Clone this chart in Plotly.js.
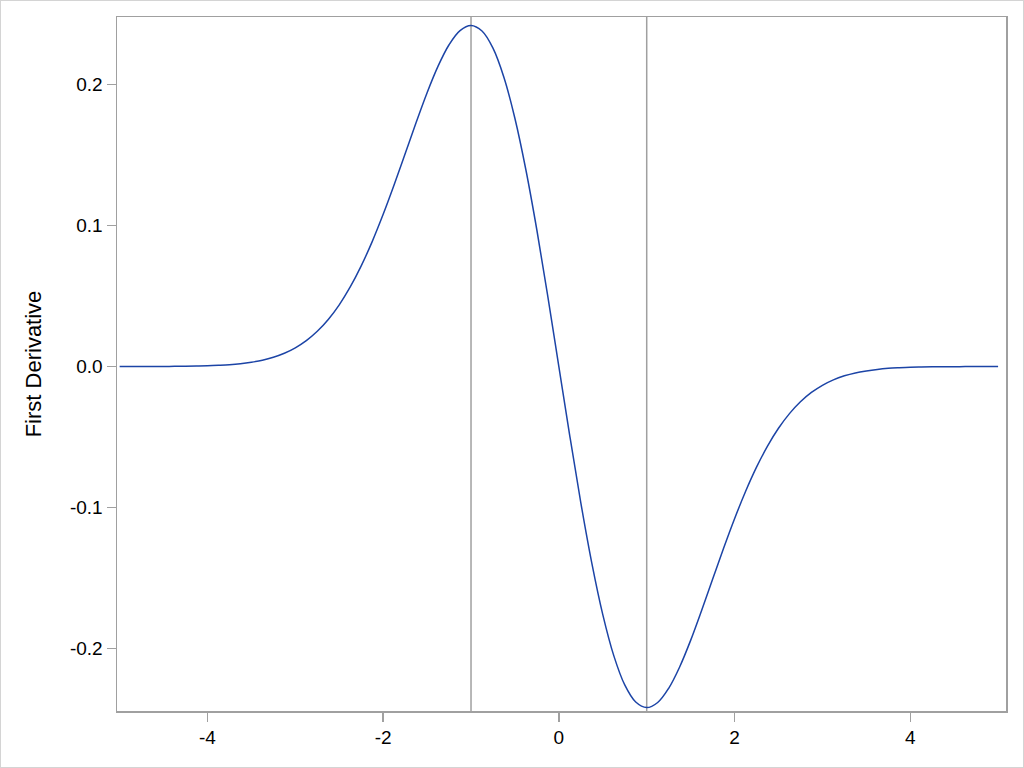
<!DOCTYPE html>
<html>
<head>
<meta charset="utf-8">
<script src="https://cdn.plot.ly/plotly-3.0.1.min.js"></script>
<style>
html,body{margin:0;padding:0;background:#fff;}
#wrap{width:1022px;height:766px;border:1px solid #d4d4d4;}
#chart{width:1022px;height:766px;}
</style>
</head>
<body>
<div id="wrap"><div id="chart"></div></div>
<script>
// x positions and first-derivative values
const xValues = [
  -5,-4.875,-4.75,-4.625,-4.5,-4.375,-4.25,-4.125,-4,-3.875,-3.75,-3.625,-3.5,-3.375,-3.25,-3.125,
  -3,-2.875,-2.75,-2.625,-2.5,-2.375,-2.25,-2.125,-2,-1.875,-1.75,-1.625,-1.5,-1.375,-1.25,-1.125,
  -1,-0.875,-0.75,-0.625,-0.5,-0.375,-0.25,-0.125,
  0,0.125,0.25,0.375,0.5,0.625,0.75,0.875,
  1,1.125,1.25,1.375,1.5,1.625,1.75,1.875,2,2.125,2.25,2.375,2.5,2.625,2.75,2.875,
  3,3.125,3.25,3.375,3.5,3.625,3.75,3.875,4,4.125,4.25,4.375,4.5,4.625,4.75,4.875,5];
const yValues = [
  0,0.00001,0.00002,0.00004,0.0001,0.00012,0.0002,0.00033,0.0005,0.00085,0.0013,0.00203,0.0031,0.00453,0.0066,0.00944,
  0.0133,0.01839,0.0250,0.0334,0.0438,0.05645,0.0714,0.08865,0.1080,0.12897,0.1510,0.17311,0.1943,0.21314,0.2283,0.23836,
  0.2420,0.23805,0.2259,0.2051,0.1760,0.13944,0.0967,0.04948,
  0,-0.04948,-0.0967,-0.13944,-0.1760,-0.2051,-0.2259,-0.23805,
  -0.2420,-0.23836,-0.2283,-0.21314,-0.1943,-0.17311,-0.1510,-0.12897,-0.1080,-0.08865,-0.0714,-0.05645,-0.0438,-0.0334,-0.0250,-0.01839,
  -0.0133,-0.00944,-0.0066,-0.00453,-0.0031,-0.00203,-0.0013,-0.00085,-0.0005,-0.00033,-0.0002,-0.00012,-0.0001,-0.00004,-0.00002,-0.00001,0];
const refLines = [-1, 1];
const xTicks = [-4,-2,0,2,4];
const yTicks = [-0.2,-0.1,0,0.1,0.2];
const yTickText = ["-0.2","-0.1","0.0","0.1","0.2"];
const yTitle = "First Derivative";

const tickFont = {family: "Liberation Sans, Arial, sans-serif", size: 19, color: "#000"};
const titleFont = {family: "Liberation Sans, Arial, sans-serif", size: 22, color: "#000"};
const shapes = refLines.map(v => ({
  type: "line", xref: "x", yref: "paper", x0: v, x1: v, y0: 0, y1: 1,
  line: {color: "#a0a0a0", width: 1.5}, layer: "below"
}));

Plotly.newPlot("chart", [{
  x: xValues, y: yValues, type: "scatter", mode: "lines",
  line: {color: "#1c44a6", width: 1.5, shape: "spline", smoothing: 1}
}], {
  width: 1022, height: 766,
  margin: {l: 116, r: 17, t: 16, b: 56},
  paper_bgcolor: "#fff", plot_bgcolor: "#fff",
  showlegend: false,
  font: tickFont,
  shapes: shapes,
  xaxis: {
    range: [-5.03, 5.09], tickvals: xTicks, ticktext: xTicks.map(String),
    showgrid: false, zeroline: false, showline: true, mirror: true,
    linecolor: "#a0a0a0", linewidth: 1.5, ticks: "outside", ticklen: 9, tickcolor: "#a0a0a0", tickwidth: 1.5,
    tickfont: tickFont
  },
  yaxis: {
    range: [-0.2444, 0.248], tickvals: yTicks, ticktext: yTickText,
    showgrid: false, zeroline: false, showline: true, mirror: true,
    linecolor: "#a0a0a0", linewidth: 1.5, ticks: "outside", ticklen: 9, tickcolor: "#a0a0a0", tickwidth: 1.5,
    tickfont: tickFont,
    title: {text: yTitle, font: titleFont, standoff: 22}
  }
}, {displayModeBar: false, staticPlot: true});
</script>
</body>
</html>
